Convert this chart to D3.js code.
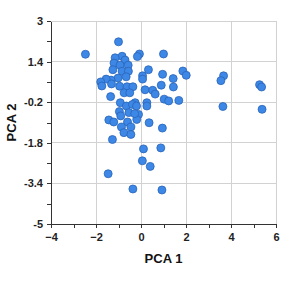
<!DOCTYPE html>
<html><head><meta charset="utf-8">
<script src="https://cdn.jsdelivr.net/npm/d3@7"></script>
<style>body{margin:0;background:#fff}svg{display:block}</style>
</head><body>
<script>
const pcaX = [-2.47,-1.00,-0.84,-1.15,-0.71,-1.20,-0.93,-0.57,-1.25,-0.84,-0.56,-0.66,-1.02,-1.33,-1.55,-1.79,-1.74,-1.31,-0.95,-0.62,-0.36,
 -0.07,-0.16,0.07,0.07,0.33,0.18,0.52,0.63,1.00,0.96,1.43,1.86,2.01,0.90,1.44,1.03,1.23,1.68,0.26,0.26,-0.26,-0.11,-0.19,0.36,0.95,
 -1.35,-0.75,-0.50,-0.92,-0.65,-0.38,-0.20,-0.96,-0.90,-0.54,-0.28,-1.43,-1.21,-0.60,-0.87,-0.45,-0.76,-0.45,-1.27,
 0.11,0.88,0.06,0.41,-1.46,-0.36,0.93,
 3.67,3.55,3.64,5.27,5.36,5.38];
const pcaY = [1.69,2.18,1.61,1.55,1.46,1.34,1.26,1.26,1.08,1.02,1.02,0.80,0.75,0.67,0.71,0.60,0.44,0.52,0.43,0.41,0.41,
 1.70,1.60,0.84,0.71,1.08,0.29,0.27,0.12,1.70,0.90,0.73,1.03,0.86,0.47,0.40,-0.08,-0.15,-0.13,-0.22,-0.35,-0.22,-0.68,-0.88,-1.01,-1.22,
 0.02,0.17,0.17,-0.22,-0.35,-0.29,-0.35,-0.57,-0.74,-0.61,-0.65,-0.90,-0.98,-0.98,-1.18,-1.18,-1.40,-1.47,-1.67,
 -2.04,-2.00,-2.51,-2.73,-3.02,-3.62,-3.66,
 0.84,0.65,-0.37,0.49,0.40,-0.48];
const xTicks = [-4,-2,0,2,4,6];
const xMinor = [-3,-1,1,3,5];
const yTicks = [3,1.4,-0.2,-1.8,-3.4,-5];
const yMinor = [2.2,0.6,-1,-2.6,-4.2];
const xTitle = "PCA 1", yTitle = "PCA 2";

const W=300,H=282, L=51,R=276,T=21,B=224;
const svg=d3.select("body").append("svg").attr("width",W).attr("height",H);
const x=d3.scaleLinear().domain([-4,6]).range([L,R]);
const y=d3.scaleLinear().domain([-5,3]).range([B,T]);
const font="'Liberation Sans', Arial, sans-serif";

// grid
svg.append("g").selectAll("line").data(xTicks.slice(1)).join("line")
 .attr("x1",d=>x(d)).attr("x2",d=>x(d)).attr("y1",T).attr("y2",B)
 .attr("stroke","#d2d2d2").attr("stroke-width",1).attr("shape-rendering","crispEdges");
svg.append("g").selectAll("line").data(yTicks.slice(0,-1)).join("line")
 .attr("x1",L).attr("x2",R).attr("y1",d=>y(d)).attr("y2",d=>y(d))
 .attr("stroke","#d2d2d2").attr("stroke-width",1).attr("shape-rendering","crispEdges");

// axes
const xa=svg.append("g").attr("transform",`translate(0,${B})`)
 .call(d3.axisBottom(x).tickValues(xTicks).tickSize(4).tickPadding(5).tickFormat(d3.format("d")));
const xm=svg.append("g").attr("transform",`translate(0,${B})`)
 .call(d3.axisBottom(x).tickValues(xMinor).tickSize(4).tickFormat(""));
const ya=svg.append("g").attr("transform",`translate(${L},0)`)
 .call(d3.axisLeft(y).tickValues(yTicks).tickSize(4).tickPadding(4).tickFormat(d=>String(d)));
const ym=svg.append("g").attr("transform",`translate(${L},0)`)
 .call(d3.axisLeft(y).tickValues(yMinor).tickSize(4).tickFormat(""));
[xa,xm,ya,ym].forEach(g=>{
 g.selectAll("path").attr("stroke","#333").attr("shape-rendering","crispEdges");
 g.selectAll("line").attr("stroke","#333").attr("shape-rendering","crispEdges");
 g.selectAll("text").attr("font-family",font).attr("font-size",11).attr("font-weight","bold").attr("fill","#222");
});
xm.select("path").remove(); ym.select("path").remove();

// frame top/right
svg.append("line").attr("x1",L).attr("x2",R).attr("y1",T).attr("y2",T).attr("stroke","#d2d2d2").attr("shape-rendering","crispEdges");
svg.append("line").attr("x1",R).attr("x2",R).attr("y1",T).attr("y2",B).attr("stroke","#d2d2d2").attr("shape-rendering","crispEdges");

// points
svg.append("g").selectAll("circle").data(d3.range(pcaX.length)).join("circle")
 .attr("cx",i=>x(pcaX[i])).attr("cy",i=>y(pcaY[i])).attr("r",4)
 .attr("fill","#3d87e6").attr("stroke","#2a65b8").attr("stroke-width",0.8);

// titles
svg.append("text").attr("x",(L+R)/2).attr("y",263).attr("text-anchor","middle")
 .attr("font-family",font).attr("font-size",13).attr("font-weight","bold").attr("fill","#111").text(xTitle);
svg.append("text").attr("transform",`translate(16,${(T+B)/2}) rotate(-90)`).attr("text-anchor","middle")
 .attr("font-family",font).attr("font-size",13).attr("font-weight","bold").attr("fill","#111").text(yTitle);
</script>
</body></html>
